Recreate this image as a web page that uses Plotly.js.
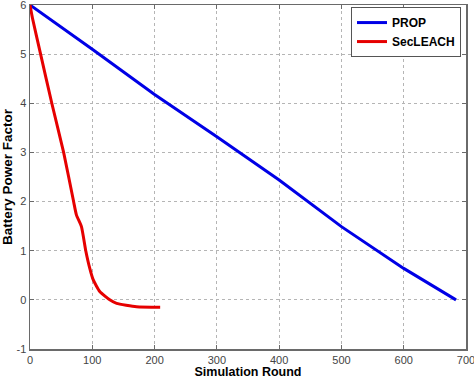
<!DOCTYPE html>
<html><head><meta charset="utf-8">
<script src="https://cdn.plot.ly/plotly-3.0.1.min.js"></script>
<style>html,body{margin:0;padding:0;background:#fff}#c{width:474px;height:379px}</style>
</head><body><div id="c"></div>
<script>
const propX = [0, 100, 200, 273, 300, 400, 500, 600, 684];
const propY = [6, 5.10, 4.18, 3.56, 3.32, 2.44, 1.49, 0.64, 0];
const secX = [0, 4, 17, 35, 54, 70, 74.5, 82.6, 89.5, 96, 101.4, 112, 128, 139, 171, 209];
const secY = [6, 5.73, 5.0, 4.0, 3.0, 2.0, 1.73, 1.49, 1.0, 0.64, 0.41, 0.17, 0.0, -0.07, -0.14, -0.15];
const xTicks = [0, 100, 200, 300, 400, 500, 600, 700];
const yTicks = [-1, 0, 1, 2, 3, 4, 5, 6];

const data = [
  {x: propX, y: propY, name: 'PROP', mode: 'lines', line: {color: '#0000e6', width: 3}},
  {x: secX, y: secY, name: 'SecLEACH', mode: 'lines', line: {color: '#e60000', width: 3, shape: 'spline', smoothing: 0.5}}
];
const axisCommon = {
  showline: true, mirror: 'ticks', linecolor: '#6a6a6a', linewidth: 1.5,
  ticks: 'inside', ticklen: 4, tickcolor: '#6a6a6a',
  showgrid: true, gridcolor: '#b5b5b5', griddash: 'dot', gridwidth: 1,
  zeroline: false, ticklabeloverflow: 'allow',
  tickfont: {family: 'Arial, Liberation Sans', size: 11, color: '#444'}
};
const layout = {
  width: 474, height: 379,
  margin: {l: 30, r: 8, t: 5, b: 30},
  paper_bgcolor: '#fff', plot_bgcolor: '#fff',
  showlegend: true,
  legend: {x: 0.9885, y: 0.994, xanchor: 'right', yanchor: 'top',
    bgcolor: '#fff', bordercolor: '#555', borderwidth: 1,
    font: {family: 'Arial, Liberation Sans', size: 12, color: '#000', weight: 'bold'},
    tracegroupgap: 2},
  xaxis: Object.assign({}, axisCommon, {range: [0, 700], tickvals: xTicks, ticktext: xTicks.map(String),
    automargin: false,
    title: {text: 'Simulation Round', standoff: 0, font: {family: 'Arial, Liberation Sans', size: 12.5, color: '#000', weight: 'bold'}}}),
  yaxis: Object.assign({}, axisCommon, {range: [-1, 6], tickvals: yTicks, ticktext: yTicks.map(String),
    automargin: false,
    title: {text: 'Battery Power Factor', standoff: 2, font: {family: 'Arial, Liberation Sans', size: 13.5, color: '#000', weight: 'bold'}}})
};
Plotly.newPlot('c', data, layout, {displayModeBar: false, staticPlot: true});
</script></body></html>
